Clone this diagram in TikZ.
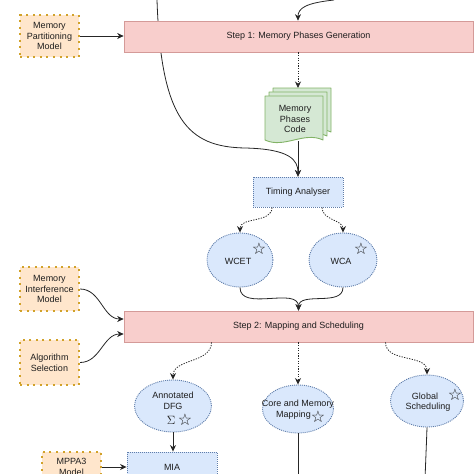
\documentclass[tikz,border=0pt]{standalone}
\usepackage{fontspec}
\setmainfont{Liberation Sans}
\newfontfamily\symfont{DejaVu Sans}
\usetikzlibrary{arrows.meta,shapes.geometric}
\definecolor{pinkF}{HTML}{F8CECC}
\definecolor{pinkD}{HTML}{D49A98}
\definecolor{orF}{HTML}{FFE6CC}
\definecolor{orD}{HTML}{D1A22A}
\definecolor{grF}{HTML}{D5E8D4}
\definecolor{grD}{HTML}{82B366}
\definecolor{blF}{HTML}{DAE8FC}
\definecolor{blD}{HTML}{5F7DAA}
\definecolor{txtC}{HTML}{1E1E1E}
\begin{document}
\begin{tikzpicture}[x=1pt,y=-1pt,
  font=\fontsize{9}{10.8}\selectfont, text=txtC,
  conn/.style={line width=0.8pt, draw=black!85},
  arr/.style={conn, -{Stealth[length=6.5pt,width=6pt]}},
  darr/.style={arr, dash pattern=on 1.3pt off 1.3pt},
  stepbox/.style={draw=pinkD, fill=pinkF, minimum width=349pt, minimum height=31pt, line width=0.7pt},
  inbox/.style={draw=orD, fill=orF, line width=2pt, dash pattern=on 2pt off 4.6pt, minimum width=59pt, align=center, inner sep=1pt},
  bluebox/.style={draw=blD, fill=blF, line width=0.9pt, dash pattern=on 1pt off 1pt, minimum width=90pt, minimum height=30pt},
  blueell/.style={ellipse, draw=blD, fill=blF, line width=0.9pt, dash pattern=on 1pt off 1pt, inner sep=0pt},
  docsheet/.style={draw=grD, fill=grF, line width=0.9pt, line join=round},
  txt/.style={inner sep=0pt, align=center},
  starmark/.style={inner sep=0pt, font=\symfont\fontsize{16}{16}\selectfont}
]
\useasboundingbox (0,0) rectangle (474,474);

% nodes needed first
\coordinate (top1) at (157,0);
\coordinate (top2) at (334,0);
\node[bluebox] (ta) at (298,192) {Timing Analyser};

% connector passing behind Step 1
\draw[arr] (top1) .. controls (161,120) and (188,147) .. (245,148) .. controls (290,149) and (298,160) .. (ta.north);

% Step 1
\node[stepbox] (s1) at (298.5,36.5) {Step 1: Memory Phases Generation};
\node[inbox, minimum height=42pt] (mpm) at (49.5,36) {Memory\\Partitioning\\Model};

% Memory phases code (multi document)
\draw[docsheet] (273,88) -- (331,88) -- (331,132) .. controls (312,123) and (292,141) .. (273,132) -- cycle;
\draw[docsheet] (269,92) -- (327,92) -- (327,136) .. controls (308,127) and (288,145) .. (269,136) -- cycle;
\draw[docsheet] (265,96) -- (323,96) -- (323,140) .. controls (304,131) and (284,149) .. (265,140) -- cycle;
\node[txt] (mpc) at (295,119) {Memory\\Phases\\Code};
\coordinate (mpctop) at (298,88);
\coordinate (mpcbot) at (298,141);

\draw[arr] (mpm.east) -- (s1.west |- mpm.east);
\draw[arr] (top2) .. controls (306,3) and (298,8) .. (s1.north -| mpctop);
\draw[darr] (s1.south -| mpctop) -- (mpctop);
\draw[arr] (mpcbot) -- (ta.north);

% WCET / WCA
\node[blueell, minimum width=66pt, minimum height=54pt] (wcet) at (240,260) {};
\node[txt] (wcett) at (238,261) {WCET};
\node[starmark] (wcets) at (259,249) {☆};
\node[blueell, minimum width=68pt, minimum height=54pt] (wca) at (343,260) {};
\node[txt] (wcat) at (341,261) {WCA};
\node[starmark] (wcas) at (361,249) {☆};

\draw[darr] ([xshift=-26pt]ta.south) to[out=-90,in=90] (wcet.north);
\draw[darr] ([xshift=24pt]ta.south) to[out=-90,in=90] (wca.north);

% Step 2
\node[stepbox] (s2) at (298.5,326.5) {Step 2: Mapping and Scheduling};
\node[inbox, minimum height=44pt] (mim) at (49.5,289) {Memory\\Interference\\Model};
\node[inbox, minimum height=45pt] (as) at (49.5,362.5) {Algorithm\\Selection};

\draw[arr] (wcet.south) to[out=-90,in=90] (s2.north);
\draw[arr] (wca.south) to[out=-90,in=90] (s2.north);
\draw[arr] (mim.east) to[out=0,in=180] ([yshift=7.5pt]s2.west);
\draw[arr] (as.east) to[out=0,in=180] ([yshift=-7.5pt]s2.west);

% second level
\node[blueell, minimum width=77pt, minimum height=52pt] (adfg) at (173,406) {};
\node[txt] (adfgt) at (173,401) {Annotated\\DFG};
\node[inner sep=0pt] (adfgsig) at (171,420) {\fontsize{13}{13}\selectfont$\Sigma$};
\node[starmark] (adfgs) at (185,420) {☆};

\node[blueell, minimum width=71pt, minimum height=48pt] (cmm) at (298,409) {};
\node[txt] (cmmt1) at (298,404) {Core and Memory};
\node[txt] (cmmt2) at (293.5,415) {Mapping};
\node[starmark] (cmms) at (318,417) {☆};

\node[blueell, minimum width=73pt, minimum height=52pt] (gs) at (427,401) {};
\node[txt] (gst1) at (425,396) {Global};
\node[txt] (gst2) at (428,407) {Scheduling};
\node[starmark] (gss) at (455,395) {☆};

\draw[darr] ([xshift=-87pt]s2.south) to[out=-90,in=90] (adfg.north);
\draw[darr] (s2.south -| cmm.north) -- (cmm.north);
\draw[darr] ([xshift=87pt]s2.south) to[out=-90,in=90] (gs.north);

\coordinate (cmmout) at (298,480);
\coordinate (gsout) at (425,480);
\draw[conn] (cmm.south) -- (cmmout);
\draw[conn] (gs.south) to[out=-92,in=88] (gsout);

% bottom
\node[bluebox] (mia) at (172,467) {MIA};
\node[inbox, minimum width=59pt, minimum height=30pt] (mppa) at (71.5,467) {MPPA3\\Model};
\draw[arr] (adfg.south) -- (mia.north -| adfg.south);
\draw[arr] (mppa.east) -- (mia.west);
\end{tikzpicture}
\end{document}
